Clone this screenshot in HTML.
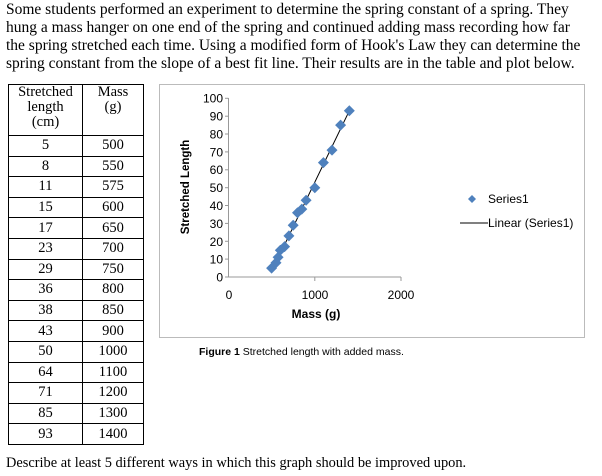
<!DOCTYPE html>
<html><head><style>
body{margin:0;width:602px;height:476px;background:#fff;position:relative;font-family:"Liberation Serif",serif;overflow:hidden}
.p{position:absolute;left:6px;font-size:15.5px;line-height:18px;color:#000;white-space:nowrap}
table{position:absolute;left:8px;top:84px;border-collapse:collapse;font-size:14.5px;font-family:"Liberation Serif",serif}
td{border:1px solid #000;text-align:center;padding:0;height:19.6px;line-height:15px}
</style></head><body>
<div class="p" style="top:1px">Some students performed an experiment to determine the spring constant of a spring. They<br>hung a mass hanger on one end of the spring and continued adding mass recording how far<br>the spring stretched each time. Using a modified form of Hook's Law they can determine the<br>spring constant from the slope of a best fit line. Their results are in the table and plot below.</div>
<table>
<tr><td style="width:73px;height:50px;vertical-align:top">Stretched<br>length<br>(cm)</td><td style="width:60px;vertical-align:top">Mass<br>(g)</td></tr>
<tr><td>5</td><td>500</td></tr><tr><td>8</td><td>550</td></tr><tr><td>11</td><td>575</td></tr><tr><td>15</td><td>600</td></tr><tr><td>17</td><td>650</td></tr><tr><td>23</td><td>700</td></tr><tr><td>29</td><td>750</td></tr><tr><td>36</td><td>800</td></tr><tr><td>38</td><td>850</td></tr><tr><td>43</td><td>900</td></tr><tr><td>50</td><td>1000</td></tr><tr><td>64</td><td>1100</td></tr><tr><td>71</td><td>1200</td></tr><tr><td>85</td><td>1300</td></tr><tr><td>93</td><td>1400</td></tr>
</table>
<svg style="position:absolute;left:0;top:0" width="602" height="476" font-family="Liberation Sans, sans-serif" font-size="12">
<rect x="159.5" y="84.5" width="425" height="253" fill="none" stroke="#bbb"/>
<line x1="228.5" y1="98" x2="228.5" y2="277" stroke="#999"/>
<line x1="228.5" y1="277" x2="401" y2="277" stroke="#999"/>
<g stroke="#999">
<line x1="225" y1="98.3" x2="228.5" y2="98.3"/><line x1="225" y1="116.2" x2="228.5" y2="116.2"/><line x1="225" y1="134" x2="228.5" y2="134"/><line x1="225" y1="151.9" x2="228.5" y2="151.9"/><line x1="225" y1="169.8" x2="228.5" y2="169.8"/><line x1="225" y1="187.7" x2="228.5" y2="187.7"/><line x1="225" y1="205.5" x2="228.5" y2="205.5"/><line x1="225" y1="223.4" x2="228.5" y2="223.4"/><line x1="225" y1="241.3" x2="228.5" y2="241.3"/><line x1="225" y1="259.1" x2="228.5" y2="259.1"/><line x1="225" y1="277" x2="228.5" y2="277"/>
<line x1="314.8" y1="277" x2="314.8" y2="281"/><line x1="401" y1="277" x2="401" y2="281"/>
</g>
<g text-anchor="end">
<text x="223" y="102.5">100</text><text x="223" y="120.5">90</text><text x="223" y="138.5">80</text><text x="223" y="156.5">70</text><text x="223" y="174">60</text><text x="223" y="192">50</text><text x="223" y="210">40</text><text x="223" y="228">30</text><text x="223" y="246">20</text><text x="223" y="263.5">10</text><text x="223" y="281.5">0</text>
</g>
<g text-anchor="middle">
<text x="229" y="299">0</text><text x="315" y="299">1000</text><text x="401" y="299">2000</text>
<text x="316" y="318" font-weight="bold">Mass (g)</text>
</g>
<text transform="translate(189,187) rotate(-90)" text-anchor="middle" font-weight="bold" font-size="11.5">Stretched Length</text>
<line x1="271.6" y1="271.6" x2="349.3" y2="110.8" stroke="#000" stroke-width="1"/>
<g fill="#4f81bd">
<path d="M0,-5.5L5.5,0L0,5.5L-5.5,0Z" transform="translate(271.6,268.1)"/>
<path d="M0,-5.5L5.5,0L0,5.5L-5.5,0Z" transform="translate(276,262.7)"/>
<path d="M0,-5.5L5.5,0L0,5.5L-5.5,0Z" transform="translate(278.1,257.3)"/>
<path d="M0,-5.5L5.5,0L0,5.5L-5.5,0Z" transform="translate(280.3,250.2)"/>
<path d="M0,-5.5L5.5,0L0,5.5L-5.5,0Z" transform="translate(284.6,246.6)"/>
<path d="M0,-5.5L5.5,0L0,5.5L-5.5,0Z" transform="translate(288.9,235.9)"/>
<path d="M0,-5.5L5.5,0L0,5.5L-5.5,0Z" transform="translate(293.2,225.2)"/>
<path d="M0,-5.5L5.5,0L0,5.5L-5.5,0Z" transform="translate(297.5,212.7)"/>
<path d="M0,-5.5L5.5,0L0,5.5L-5.5,0Z" transform="translate(301.8,209.1)"/>
<path d="M0,-5.5L5.5,0L0,5.5L-5.5,0Z" transform="translate(306.1,200.2)"/>
<path d="M0,-5.5L5.5,0L0,5.5L-5.5,0Z" transform="translate(314.8,187.7)"/>
<path d="M0,-5.5L5.5,0L0,5.5L-5.5,0Z" transform="translate(323.4,162.6)"/>
<path d="M0,-5.5L5.5,0L0,5.5L-5.5,0Z" transform="translate(332,150.1)"/>
<path d="M0,-5.5L5.5,0L0,5.5L-5.5,0Z" transform="translate(340.6,125.1)"/>
<path d="M0,-5.5L5.5,0L0,5.5L-5.5,0Z" transform="translate(349.3,110.8)"/>
<path d="M0,-4L4,0L0,4L-4,0Z" transform="translate(472,199)"/>
</g>
<text x="488" y="203">Series1</text>
<line x1="460" y1="223" x2="488" y2="223" stroke="#000"/>
<text x="488" y="227">Linear (Series1)</text>
<text x="199" y="355" font-size="10.5"><tspan font-weight="bold">Figure 1</tspan> Stretched length with added mass.</text>
</svg>
<div class="p" style="top:454px;font-size:14.4px">Describe at least 5 different ways in which this graph should be improved upon.</div>
</body></html>
